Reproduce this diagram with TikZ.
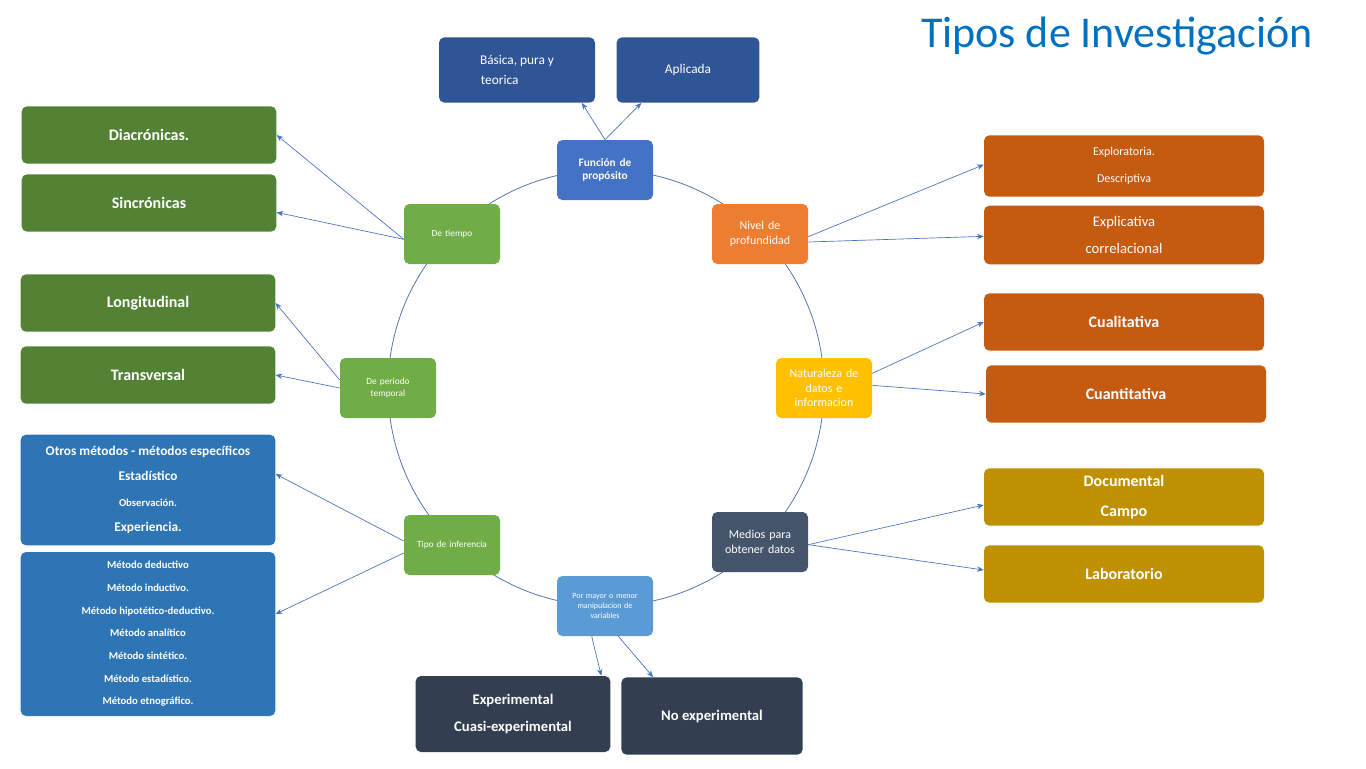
\documentclass[tikz,border=0pt]{standalone}
\usepackage{fontspec}
\setmainfont{Carlito}
\usetikzlibrary{arrows.meta}
\definecolor{dblue}{HTML}{2F5597}
\definecolor{mblue}{HTML}{4472C4}
\definecolor{lblue}{HTML}{5B9BD5}
\definecolor{orng}{HTML}{ED7D31}
\definecolor{yel}{HTML}{FFC000}
\definecolor{slate}{HTML}{44546A}
\definecolor{grn}{HTML}{70AD47}
\definecolor{dgrn}{HTML}{548235}
\definecolor{mb}{HTML}{2E75B6}
\definecolor{rust}{HTML}{C55A11}
\definecolor{gold}{HTML}{BF9000}
\definecolor{navy}{HTML}{333F50}
\definecolor{ttl}{HTML}{0070C0}
\begin{document}
\begin{tikzpicture}[x=0.75pt,y=-0.75pt,
 box/.style={rounded corners=4pt,text=white,align=center,inner sep=2pt},
 hub/.style={box,minimum width=72pt,minimum height=45pt,text width=68pt,font=\fontsize{7.5}{9}\selectfont},
 big/.style={box,font=\bfseries\fontsize{12}{18}\selectfont},
 arr/.style={-{Stealth[length=5pt,width=4pt]},mblue,line width=0.5pt}]
\useasboundingbox (0,0) rectangle (1366,768);
\draw[mblue!70!gray,line width=0.6pt] (606,388) circle [radius=163.5pt];
\node[font=\fontsize{33}{36}\selectfont,text=ttl] (title) at (1117,36) {Tipos de Investigación};
% hubs
\node[hub,fill=mblue,font=\bfseries\fontsize{8.5}{10}\selectfont] (fun) at (605,170) {Función de\\propósito};
\node[hub,fill=orng,font=\fontsize{9}{11}\selectfont] (niv) at (760,234) {Nivel de\\profundidad};
\node[hub,fill=yel,font=\fontsize{9}{11}\selectfont] (nat) at (824,388) {Naturaleza de\\datos e\\informacion};
\node[hub,fill=slate,font=\fontsize{9}{11}\selectfont] (med) at (760,542) {Medios para\\obtener datos};
\node[hub,fill=lblue,font=\fontsize{6}{7.5}\selectfont] (man) at (605,606) {Por mayor o menor\\manipulacion de\\variables};
\node[hub,fill=grn,font=\fontsize{7}{9}\selectfont] (inf) at (452,545) {Tipo de inferencia};
\node[hub,fill=grn,font=\fontsize{7}{9}\selectfont] (per) at (388,388) {De periodo\\temporal};
\node[hub,fill=grn,font=\fontsize{7}{9}\selectfont] (tie) at (452,234) {De tiempo};
% top
\node[box,fill=dblue,minimum width=117pt,minimum height=49pt,font=\fontsize{10}{15}\selectfont] (bas) at (517,70) {Básica, pura y\\teorica\phantom{xxxxxx}};
\node[box,fill=dblue,minimum width=107pt,minimum height=49pt,font=\fontsize{10}{15}\selectfont] (apl) at (688,70) {Aplicada};
% left
\node[big,fill=dgrn,minimum width=191pt,minimum height=43pt] (dia) at (149,135) {Diacrónicas.};
\node[big,fill=dgrn,minimum width=191pt,minimum height=43pt] (sin) at (149,203) {Sincrónicas};
\node[big,fill=dgrn,minimum width=191pt,minimum height=43pt] (lon) at (148,303) {Longitudinal};
\node[big,fill=dgrn,minimum width=191pt,minimum height=43pt] (tra) at (148,375) {Transversal};
\node[box,fill=mb,minimum width=191pt,minimum height=83pt,font=\bfseries\fontsize{10}{19}\selectfont] (otr) at (148,490) {Otros métodos - métodos específicos\\Estadístico\\{\fontsize{8}{10}\selectfont Observación.}\\Experiencia.};
\node[box,fill=mb,minimum width=191pt,minimum height=123pt,font=\bfseries\fontsize{8}{17}\selectfont] (met) at (148,634) {Método deductivo\\Método inductivo.\\Método hipotético-deductivo.\\Método analítico\\Método sintético.\\Método estadístico.\\Método etnográfico.};
% right
\node[box,fill=rust,minimum width=210pt,minimum height=46pt,font=\fontsize{9}{20}\selectfont] (exp) at (1124,166) {Exploratoria.\\Descriptiva};
\node[box,fill=rust,minimum width=210pt,minimum height=44pt,font=\fontsize{11}{20}\selectfont] (exc) at (1124,235) {Explicativa\\correlacional};
\node[big,fill=rust,minimum width=210pt,minimum height=43pt] (cua) at (1124,322) {Cualitativa};
\node[big,fill=rust,minimum width=210pt,minimum height=43pt] (cun) at (1126,394) {Cuantitativa};
\node[big,fill=gold,minimum width=210pt,minimum height=43pt,font=\bfseries\fontsize{12}{22}\selectfont] (doc) at (1124,497) {Documental\\Campo};
\node[big,fill=gold,minimum width=210pt,minimum height=43pt] (lab) at (1124,574) {Laboratorio};
% bottom
\node[big,fill=navy,minimum width=146pt,minimum height=57pt,font=\bfseries\fontsize{11}{20}\selectfont] (exm) at (513,714) {Experimental\\Cuasi-experimental};
\node[big,fill=navy,minimum width=136pt,minimum height=58pt,font=\bfseries\fontsize{11}{20}\selectfont] (noe) at (712,716) {No experimental};
% arrows
\draw[arr] (fun.north) -- ([xshift=-10pt]bas.south east);
\draw[arr] (fun.north) -- ([xshift=-35pt]apl.south);
\draw[arr] ([yshift=-2pt]niv.east) -- ([yshift=1pt]exp.west);
\draw[arr] ([yshift=-6pt]niv.east) -- ([yshift=-1pt]exc.west);
\draw[arr] ([yshift=11pt]nat.east) -- (cua.west);
\draw[arr] ([yshift=2pt]nat.east) -- (cun.west);
\draw[arr] ([yshift=-2pt]med.east) -- ([yshift=-6pt]doc.west);
\draw[arr] ([yshift=-2pt]med.east) -- ([yshift=3pt]lab.west);
\draw[arr] ([xshift=-10pt]man.south) -- ([xshift=-7pt]exm.north east);
\draw[arr] ([xshift=10pt]man.south) -- ([xshift=24pt]noe.north west);
\draw[arr] ([yshift=3pt]inf.west) -- ([yshift=12pt]otr.east);
\draw[arr] ([yshift=-6pt]inf.west) -- ([yshift=15pt]met.east);
\draw[arr] ([yshift=6pt]per.west) -- (lon.east);
\draw[arr] (per.west) -- (tra.east);
\draw[arr] ([yshift=-4pt]tie.west) -- (dia.east);
\draw[arr] ([yshift=-4pt]tie.west) -- ([yshift=-7pt]sin.east);
\end{tikzpicture}
\end{document}
